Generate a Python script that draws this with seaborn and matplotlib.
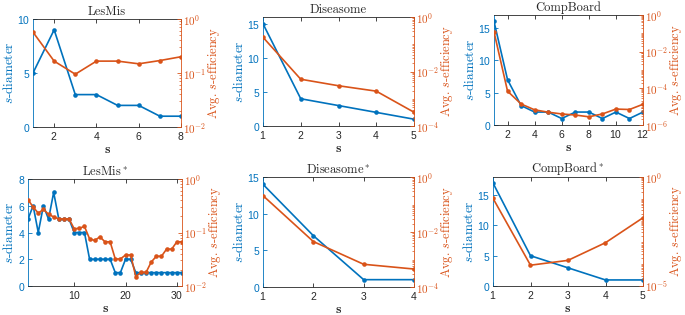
import numpy as np
import matplotlib
matplotlib.use("Agg")
import matplotlib.pyplot as plt
from matplotlib.ticker import FixedLocator, FuncFormatter, LogLocator, NullFormatter
import seaborn as sns

sns.set_style("ticks")
plt.rcParams["font.family"] = ["Liberation Sans", "DejaVu Sans"]
plt.rcParams["mathtext.fontset"] = "cm"
plt.rcParams["axes.formatter.use_mathtext"] = True

BLUE = "#0072BD"
ORANGE = "#D95319"

# LesMis
lesmis_s = [1, 2, 3, 4, 5, 6, 7, 8]
lesmis_diam = [5, 9, 3, 3, 2, 2, 1, 1]
lesmis_eff = [0.57, 0.166, 0.095, 0.166, 0.166, 0.148, 0.17, 0.2]

# Diseasome
dis_s = [1, 2, 3, 4, 5]
dis_diam = [15, 4, 3, 2, 1]
dis_eff = [0.18, 0.0052, 0.003, 0.0019, 3.2e-4]

# CompBoard
comp_s = list(range(1, 13))
comp_diam = [16, 7, 3, 2, 2, 1, 2, 2, 1, 2, 1, 2]
comp_eff = [0.12, 7e-5, 1.4e-5, 6.7e-6, 5e-6, 4e-6, 3.5e-6, 2.8e-6, 4e-6, 7.4e-6, 7e-6, 1.35e-5]

# LesMis*
lesmis2_s = list(range(1, 32))
lesmis2_diam = [5, 6, 4, 6, 5, 7, 5, 5, 5, 4, 4, 4, 2, 2, 2, 2, 2, 1, 1, 2, 2,
                1, 1, 1, 1, 1, 1, 1, 1, 1, 1]
lesmis2_eff = [0.41, 0.30, 0.23, 0.27, 0.22, 0.195, 0.18, 0.18, 0.18, 0.117, 0.12,
               0.13, 0.076, 0.071, 0.083, 0.067, 0.067, 0.032, 0.032, 0.038, 0.038,
               0.015, 0.018, 0.018, 0.028, 0.036, 0.036, 0.049, 0.049, 0.067, 0.067]

# Diseasome*
dis2_s = [1, 2, 3, 4]
dis2_diam = [14, 7, 1, 1]
dis2_eff = [0.21, 0.0045, 6.7e-4, 4.5e-4]

# CompBoard*
comp2_s = [1, 2, 3, 4, 5]
comp2_diam = [17, 5, 3, 1, 1]
comp2_eff = [0.105, 9e-5, 1.5e-4, 9.7e-4, 0.0135]

panels = [
    ("LesMis", lesmis_s, lesmis_diam, lesmis_eff, (1, 8), (0, 10), [2, 4, 6, 8], [0, 5, 10],
     (1e-2, 1), [-2, -1, 0], (33, 181, 19, 127)),
    ("Diseasome", dis_s, dis_diam, dis_eff, (1, 5), (0, 16), [1, 2, 3, 4, 5], [0, 5, 10, 15],
     (1e-4, 1), [-4, -2, 0], (263, 414, 17, 126)),
    ("CompBoard", comp_s, comp_diam, comp_eff, (1, 12), (0, 17), [2, 4, 6, 8, 10, 12], [0, 5, 10, 15],
     (1e-6, 1), [-6, -4, -2, 0], (494, 643, 15, 125)),
    ("LesMis$^*$", lesmis2_s, lesmis2_diam, lesmis2_eff, (1, 31), (0, 8), [10, 20, 30], [0, 2, 4, 6, 8],
     (1e-2, 1), [-2, -1, 0], (28, 182, 179, 286)),
    ("Diseasome$^*$", dis2_s, dis2_diam, dis2_eff, (1, 4), (0, 15), [1, 2, 3, 4], [0, 5, 10, 15],
     (1e-4, 1), [-4, -2, 0], (263, 414, 177, 287)),
    ("CompBoard$^*$", comp2_s, comp2_diam, comp2_eff, (1, 5), (0, 18), [1, 2, 3, 4, 5], [0, 5, 10, 15],
     (1e-5, 1), [-5, 0], (493, 643, 177, 286)),
]

W, H = 685, 315
fig = plt.figure(figsize=(W / 100, H / 100), dpi=100)

for title, s, diam, eff, xlim, ylim, xt, yt, rlim, rexp, (l, r, t, b) in panels:
    ax = fig.add_axes([l / W, 1 - b / H, (r - l) / W, (b - t) / H])
    ax2 = ax.twinx()

    sns.lineplot(x=s, y=diam, ax=ax, color=BLUE, marker="o", markersize=3.3,
                 markeredgewidth=0, linewidth=1.2)
    sns.lineplot(x=s, y=eff, ax=ax2, color=ORANGE, marker="o", markersize=3.3,
                 markeredgewidth=0, linewidth=1.2)

    ax.set_xlim(*xlim)
    ax.set_ylim(*ylim)
    ax.set_xticks(xt)
    ax.set_yticks(yt)
    ax2.set_yscale("log")
    ax2.set_ylim(*rlim)
    ax2.yaxis.set_major_locator(FixedLocator([10.0 ** e for e in rexp]))
    ax2.yaxis.set_major_formatter(FuncFormatter(
        lambda v, p: r"$\mathsf{10^{%d}}$" % int(round(np.log10(v)))))
    ax2.yaxis.set_minor_locator(LogLocator(base=10, subs=np.arange(1, 10), numticks=200))
    ax2.yaxis.set_minor_formatter(NullFormatter())

    ax.set_title(title, fontfamily="cmr10", fontsize=9, pad=3)
    ax.set_xlabel(r"$\mathbf{s}$", fontsize=10, labelpad=0)
    ax.set_ylabel(r"$s$-diameter", fontfamily="cmr10", fontsize=9.5, color=BLUE, labelpad=1)
    ax2.set_ylabel(r"Avg. $s$-efficiency", fontfamily="cmr10", fontsize=9, color=ORANGE, labelpad=0)

    ax.tick_params(axis="x", direction="in", top=True, length=3, width=0.6,
                   labelsize=7.5, pad=2.5, colors="#262626")
    ax.tick_params(axis="y", direction="in", length=3, width=0.6, labelsize=7.5,
                   pad=2, colors=BLUE)
    ax2.tick_params(axis="y", which="major", direction="in", length=3, width=0.6,
                    labelsize=8, pad=1.5, colors=ORANGE)
    ax2.tick_params(axis="y", which="minor", direction="in", length=1.6, width=0.5,
                    colors=ORANGE)

    for sp in ["top", "bottom"]:
        ax.spines[sp].set_color("#262626")
        ax.spines[sp].set_linewidth(0.6)
    ax.spines["left"].set_color(BLUE)
    ax.spines["left"].set_linewidth(0.6)
    ax.spines["right"].set_visible(False)
    for sp in ["top", "bottom", "left"]:
        ax2.spines[sp].set_visible(False)
    ax2.spines["right"].set_color(ORANGE)
    ax2.spines["right"].set_linewidth(0.6)

fig.savefig("out.png", dpi=100)
